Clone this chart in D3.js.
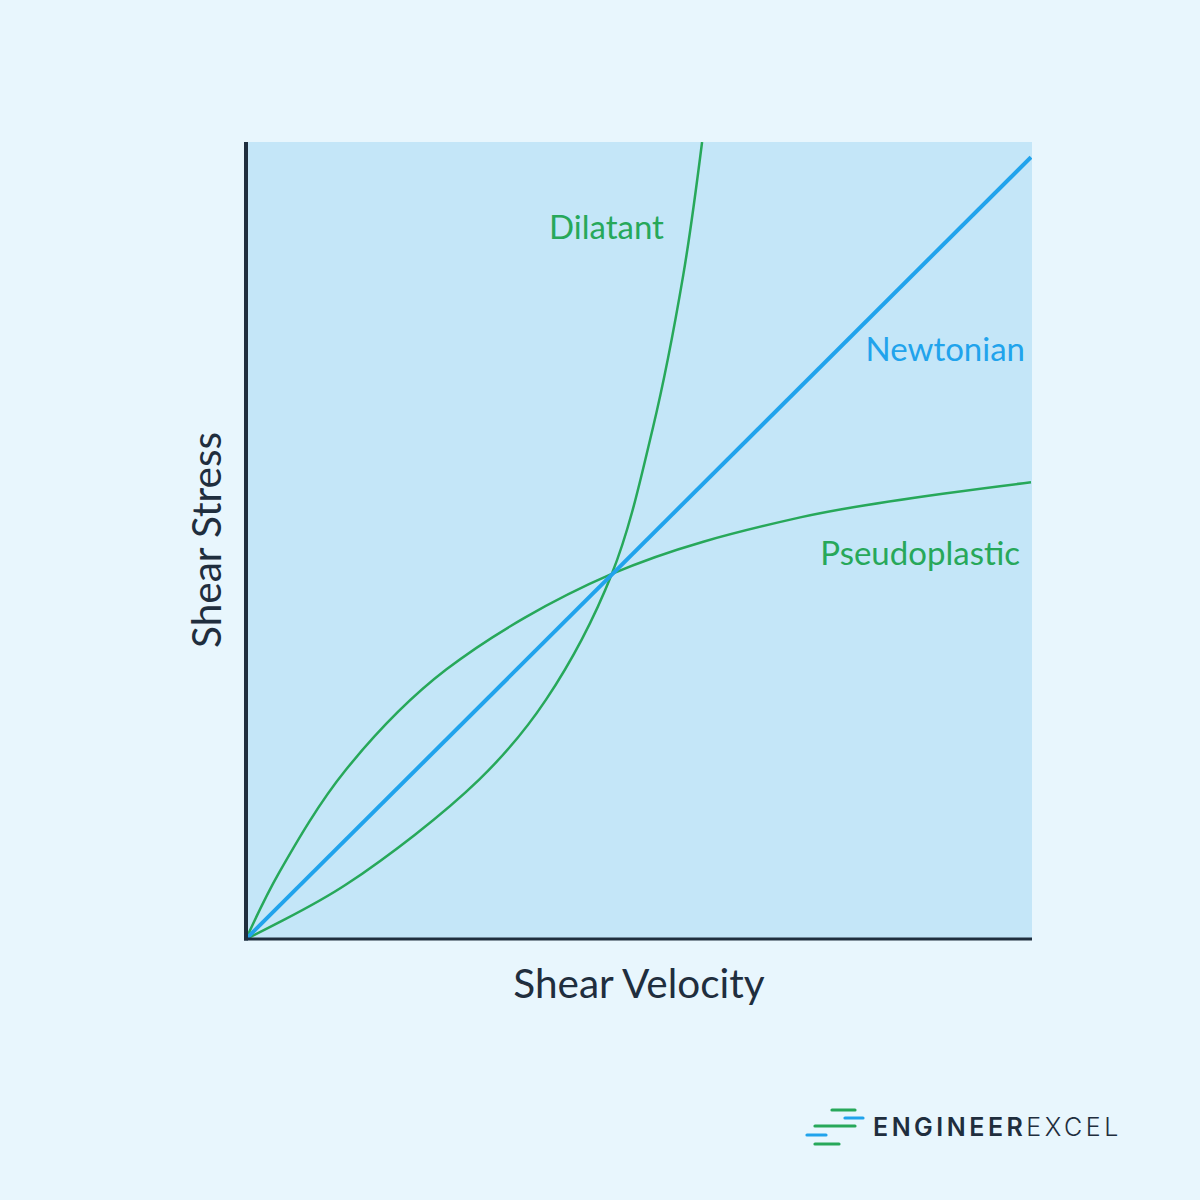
<!DOCTYPE html>
<html>
<head>
<meta charset="utf-8">
<script src="https://cdn.jsdelivr.net/npm/d3@7"></script>
<style>
  html, body { margin: 0; padding: 0; background: #e8f6fd; }
  svg { display: block; }
  text { font-family: Lato, "Open Sans", sans-serif; }
</style>
</head>
<body>
<svg id="chart" width="1200" height="1200"></svg>
<script>
// ---- Data (arbitrary units) ----
const newtonianX = [0, 100];
const newtonianY = [0, 98.1];

const dilatantX = [0, 12.7, 29.7, 38.2, 46.6, 51.8, 55.7, 58.1];
const dilatantY = [0, 6.8, 20.0, 30.0, 45.8, 64.0, 83.3, 100.0];

const pseudoX = [0, 4.2, 12.7, 25.5, 46.6, 70.6, 100];
const pseudoY = [0, 8.3, 21.2, 33.8, 45.8, 52.9, 57.3];

const seriesLabels = ["Newtonian", "Dilatant", "Pseudoplastic"];
const xAxisTitle = "Shear Velocity";
const yAxisTitle = "Shear Stress";

(function () {
// ---- Layout ----
const svg = d3.select("#chart");
const pL = 246, pR = 1032, pT = 142, pB = 939;
const x = d3.scaleLinear().domain([0, 100]).range([pL, 1031]);
const y = d3.scaleLinear().domain([0, 100]).range([pB, pT]);

const green = "#27a85a", blue = "#21a3ec", dark = "#1f2e3e";

svg.append("rect").attr("width", 1200).attr("height", 1200).attr("fill", "#e8f6fd");
svg.append("rect").attr("x", pL).attr("y", pT).attr("width", pR - pL).attr("height", pB - pT).attr("fill", "#c4e6f8");

svg.append("defs").append("clipPath").attr("id", "clip")
  .append("rect").attr("x", pL).attr("y", pT).attr("width", pR - pL).attr("height", pB - pT + 2);

const line = d3.line().x(d => x(d[0])).y(d => y(d[1])).curve(d3.curveCatmullRom.alpha(0.5));
const zip = (a, b) => a.map((v, i) => [v, b[i]]);

const g = svg.append("g").attr("clip-path", "url(#clip)");
g.append("path").datum(zip(pseudoX, pseudoY)).attr("d", line)
  .attr("fill", "none").attr("stroke", green).attr("stroke-width", 2.5);
g.append("path").datum(zip(dilatantX, dilatantY)).attr("d", line)
  .attr("fill", "none").attr("stroke", green).attr("stroke-width", 2.5);
g.append("path").datum(zip(newtonianX, newtonianY)).attr("d", d3.line().x(d => x(d[0])).y(d => y(d[1])))
  .attr("fill", "none").attr("stroke", blue).attr("stroke-width", 4);

// Axes (domain lines only)
const xAxis = svg.append("g").attr("transform", `translate(0,${pB})`)
  .call(d3.axisBottom(x).tickValues([]).tickSizeOuter(0));
xAxis.select(".domain").attr("stroke", dark).attr("stroke-width", 3)
  .attr("d", `M${pL - 2},0H${pR}`);
const yAxis = svg.append("g").attr("transform", `translate(${pL},0)`)
  .call(d3.axisLeft(y).tickValues([]).tickSizeOuter(0));
yAxis.select(".domain").attr("stroke", dark).attr("stroke-width", 4)
  .attr("d", `M0,${pT}V${pB + 1.5}`);

// Series labels
svg.append("text").attr("x", 1025).attr("y", 361).attr("text-anchor", "end").attr("font-size", 33).attr("fill", blue)
  .text(seriesLabels[0]);
svg.append("text").attr("x", 549).attr("y", 239).attr("font-size", 33).attr("fill", green)
  .text(seriesLabels[1]);
svg.append("text").attr("x", 1020).attr("y", 565).attr("text-anchor", "end").attr("font-size", 33).attr("fill", green)
  .text(seriesLabels[2]);

// Axis titles
svg.append("text").attr("x", 639).attr("y", 998).attr("text-anchor", "middle")
  .attr("font-size", 40.5).attr("fill", dark).text(xAxisTitle);
svg.append("text").attr("transform", "translate(221,540) rotate(-90)").attr("text-anchor", "middle")
  .attr("font-size", 40.5).attr("fill", dark).text(yAxisTitle);

// Logo
const logo = svg.append("g");
const logoLines = [
  [832, 855, 1110, green], [845, 863, 1118, blue], [815, 855, 1126, green],
  [807, 826, 1135, blue], [815, 839, 1144, green]
];
logoLines.forEach(([x1, x2, yy, c]) => {
  logo.append("line").attr("x1", x1).attr("x2", x2).attr("y1", yy).attr("y2", yy)
    .attr("stroke", c).attr("stroke-width", 3.2).attr("stroke-linecap", "round");
});
const lt = logo.append("text").attr("x", 873).attr("y", 1136).attr("font-size", 25)
  .attr("fill", dark).style("font-family", "Inter, 'Open Sans', sans-serif").attr("letter-spacing", 3.5);
lt.append("tspan").attr("font-weight", 600).text("ENGINEER");
lt.append("tspan").attr("font-weight", 300).text("EXCEL");
})();
</script>
</body>
</html>
